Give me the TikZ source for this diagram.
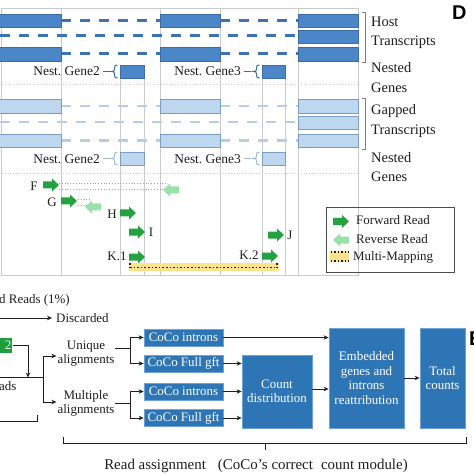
\documentclass[tikz,border=0pt]{standalone}
\usepackage{fontspec}
\setmainfont{Liberation Serif}
\newfontfamily\lsans{Liberation Sans}
\usetikzlibrary{arrows.meta}
\frenchspacing
\definecolor{hostfill}{HTML}{4A86C8}
\definecolor{hostdraw}{HTML}{3B6CA3}
\definecolor{hostdash}{HTML}{3E73B2}
\definecolor{gapfill}{HTML}{BDD7EE}
\definecolor{gapdraw}{HTML}{7C9DC2}
\definecolor{gapdash}{HTML}{B7CDE5}
\definecolor{gridgray}{HTML}{CACACA}
\definecolor{fwdgreen}{HTML}{23A23F}
\definecolor{revgreen}{HTML}{97E2A8}
\definecolor{mmyellow}{HTML}{FFE38C}
\definecolor{cocoblue}{HTML}{2E75B6}
\definecolor{cocoedge}{HTML}{6FA3D6}
\definecolor{boxgreen}{HTML}{1F9E3C}
\definecolor{txt}{HTML}{1E1E1E}
\definecolor{dotgray}{HTML}{9A9AB0}
\tikzset{
  hostbar/.style={fill=hostfill, draw=hostdraw, line width=0.8bp},
  gapbar/.style={fill=gapfill, draw=gapdraw, line width=0.8bp},
  hdash/.style={hostdash, line width=3bp, dash pattern=on 10bp off 9bp},
  gdash/.style={gapdash, line width=2.5bp, dash pattern=on 10bp off 9bp},
  grid/.style={gridgray, line width=0.8bp},
  hline/.style={gridgray, line width=0.8bp, dotted},
  lab/.style={font=\fontsize{14.5}{16}\selectfont, inner sep=0, anchor=west, text=txt},
  nest/.style={font=\fontsize{13.5}{15}\selectfont, inner sep=0, anchor=east, text=txt},
  rdlab/.style={font=\fontsize{13}{15}\selectfont, inner sep=0, text=txt},
  coco/.style={fill=cocoblue, draw=cocoedge, line width=0.8bp, text=white, minimum width=79bp, minimum height=17bp, inner sep=0, font=\fontsize{13}{15}\selectfont},
  bigbox/.style={fill=cocoblue, draw=cocoedge, line width=0.8bp, text=white, align=center, inner sep=0, font=\fontsize{13}{14.5}\selectfont},
  flowtxt/.style={font=\fontsize{13}{14}\selectfont, align=center, inner sep=1bp, text=txt},
  flow/.style={-{Stealth[length=5bp,width=4.5bp]}, line width=0.8bp, txt},
  plain/.style={line width=0.8bp, txt},
  fwdread/.pic={\fill[fwdgreen] (0,-3.5) -- (9,-3.5) -- (9,-6.5) -- (16,0) -- (9,6.5) -- (9,3.5) -- (0,3.5) -- cycle;},
  revread/.pic={\fill[revgreen] (16,-3.5) -- (7,-3.5) -- (7,-6.5) -- (0,0) -- (7,6.5) -- (7,3.5) -- (16,3.5) -- cycle;},
  nbrace/.pic={\draw[pic actions] (6,-6.5) .. controls (3.5,-6.5) and (3,-5.5) .. (3,-3.5) -- (3,-2) .. controls (3,-0.5) and (2,0) .. (0,0) .. controls (2,0) and (3,0.5) .. (3,2) -- (3,3.5) .. controls (3,5.5) and (3.5,6.5) .. (6,6.5);}
}
\begin{document}
\begin{tikzpicture}[x=1bp,y=-1bp]
\useasboundingbox (0,0) rectangle (474,474);
\fill[white] (0,0) rectangle (474,474);

% ---------- top panel ----------
\draw[grid] (1.5,275) -- (1.5,8) -- (358,8) -- (358,275) -- cycle;
\foreach \x in {61,160,220,298} \draw[grid] (\x,8) -- (\x,275);
\foreach \x in {120,144,262,285} \draw[grid] (\x,78) -- (\x,275);
\draw[hline] (2,84) -- (358,84);
\draw[hline] (2,173) -- (358,173);

% host transcripts
\draw[hdash] (61,20.5) -- (160,20.5);
\draw[hdash] (220,20.5) -- (298,20.5);
\draw[hdash] (0,36) -- (298,36);
\draw[hdash] (61,53.5) -- (160,53.5);
\draw[hdash] (220,53.5) -- (298,53.5);
\draw[hostbar] (-2,14) rectangle (61,27);
\draw[hostbar] (160,14) rectangle (220,27);
\draw[hostbar] (298,14) rectangle (358,27);
\draw[hostbar] (298,30) rectangle (358,43);
\draw[hostbar] (-2,47) rectangle (61,61);
\draw[hostbar] (160,47) rectangle (220,61);
\draw[hostbar] (298,47) rectangle (358,61);

% nested genes (host)
\node[nest] (ng2) at (100,71.5) {Nest. Gene2};
\node[nest] (ng3) at (241,71.5) {Nest. Gene3};
\draw[hostbar] (120,65) rectangle (144,78);
\draw[hostbar] (262,65) rectangle (285,78);
\draw[hostdraw, line width=1bp] (103,71.5) -- (110,71.5);
\pic[hostdraw, line width=1bp] at (111.5,71.5) {nbrace};
\draw[hostdraw, line width=1bp] (244,71.5) -- (251,71.5);
\pic[hostdraw, line width=1bp] at (253.5,71.5) {nbrace};

% gapped transcripts
\draw[gdash] (61,106) -- (160,106);
\draw[gdash] (220,106) -- (298,106);
\draw[gdash] (0,122) -- (298,122);
\draw[gdash] (61,140.5) -- (160,140.5);
\draw[gdash] (220,140.5) -- (298,140.5);
\draw[gapbar] (-2,99) rectangle (61,113);
\draw[gapbar] (160,99) rectangle (220,113);
\draw[gapbar] (298,99) rectangle (358,113);
\draw[gapbar] (298,116) rectangle (358,129);
\draw[gapbar] (-2,134) rectangle (61,147);
\draw[gapbar] (160,134) rectangle (220,147);
\draw[gapbar] (298,134) rectangle (358,147);

% nested genes (gapped)
\node[nest] (gg2) at (100,159) {Nest. Gene2};
\node[nest] (gg3) at (241,159) {Nest. Gene3};
\draw[gapbar] (120,152) rectangle (144,165);
\draw[gapbar] (262,152) rectangle (285,165);
\draw[gapdraw!70, line width=1bp] (103,158.5) -- (110,158.5);
\pic[gapdraw!70, line width=1bp] at (111.5,158.5) {nbrace};
\draw[gapdraw!70, line width=1bp] (244,158.5) -- (251,158.5);
\pic[gapdraw!70, line width=1bp] at (253.5,158.5) {nbrace};

% right labels
\draw[gray, line width=0.8bp] (362,12) -- (365.5,12) -- (365.5,62) -- (362,62);
\draw[gray, line width=0.8bp] (362,98) -- (365.5,98) -- (365.5,149) -- (362,149);
\node[lab] (l1) at (371,22) {Host};
\node[lab] (l2) at (371,42) {Transcripts};
\node[lab] (l3) at (371,68) {Nested};
\node[lab] (l4) at (371,88) {Genes};
\node[lab] (l5) at (371,111) {Gapped};
\node[lab] (l6) at (371,131) {Transcripts};
\node[lab] (l7) at (371,158) {Nested};
\node[lab] (l8) at (371,177) {Genes};
\node[font=\lsans\bfseries\fontsize{20}{20}\selectfont, inner sep=0, anchor=west] (D) at (452,13) {D};

% reads
\node[rdlab] (F) at (34,186) {F};
\draw[dotgray, dotted, line width=0.8bp] (59,183) -- (167,183);
\draw[dotgray, dotted, line width=0.8bp] (59,189) -- (163,189);
\pic at (43,185) {fwdread};
\pic at (163,190) {revread};
\node[rdlab] (G) at (52,202) {G};
\draw[dotgray, dotted, line width=0.8bp] (78,199.5) -- (90,199.5);
\draw[dotgray, dotted, line width=0.8bp] (78,205.5) -- (88,205.5);
\pic at (61,201) {fwdread};
\pic at (85,207) {revread};
\node[rdlab] (H) at (112,214) {H};
\pic at (120,213) {fwdread};
\pic at (129,232) {fwdread};
\node[rdlab] (I) at (151,232) {I};
\node[rdlab] (K1) at (117,256) {K.1};
\pic at (129,257) {fwdread};
\pic at (268,235) {fwdread};
\node[rdlab] (J) at (290,235) {J};
\node[rdlab] (K2) at (249,255) {K.2};
\pic at (262,256) {fwdread};
\fill[mmyellow] (129,262.5) rectangle (279,271);
\draw[txt, dotted, line width=1.6bp] (130,267.5) -- (277,267.5);
\draw[txt, dotted, line width=1.6bp] (130,263) -- (130,267.5);
\draw[txt, dotted, line width=1.6bp] (277,263) -- (277,267.5);

% legend
\draw[txt!80, line width=1bp] (326,208) rectangle (454,272);
\pic at (333,221.5) {fwdread};
\pic at (333,240) {revread};
\fill[mmyellow] (330,251) rectangle (349,262);
\draw[txt, dotted, line width=1.4bp] (331,252) -- (348,252);
\draw[txt, dotted, line width=1.4bp] (331,261) -- (348,261);
\node[rdlab, anchor=west] (lf) at (356,220) {Forward Read};
\node[rdlab, anchor=west] (lr) at (356,239) {Reverse Read};
\node[rdlab, anchor=west] (lm) at (353,257) {Multi-Mapping};

% ---------- bottom panel ----------
\node[rdlab, anchor=west] (unm) at (-1,300) {d Reads (1\%)};
\coordinate (dstart) at (0,318);
\node[rdlab, anchor=west] (disc) at (56,318) {Discarded};
\draw[flow, shorten >=4bp] (dstart) -- (disc.west);

\node[fill=boxgreen, text=white, minimum height=15bp, text width=28bp, align=right, inner xsep=1bp, inner ysep=0, anchor=east, font=\fontsize{13}{15}\selectfont] (g2) at (12.5,345.5) {2};
\coordinate (jl) at (0,377.5);
\coordinate (jn) at (43,377.5);
\coordinate (drop) at (28,377.5);
\draw[flow] (g2.east) -| (drop);
\draw[plain] (jl) -- (jn);
\node[rdlab, anchor=west] (ads) at (-1,386) {ads};
\draw[plain] (0,421) -- (37,421) -- (37,415);

\node[flowtxt] (uni) at (86,354) {Unique\\alignments};
\node[flowtxt] (mul) at (86,403) {Multiple\\alignments};
\coordinate (bt) at (43,356);
\coordinate (bb) at (43,402);
\draw[plain] (bt) -- (bb);
\draw[flow] (bt) -- (bt -| uni.west);
\draw[flow] (bb) -- (bb -| mul.west);

\node[coco] (ci1) at (183.5,337.5) {CoCo introns};
\node[coco] (cf1) at (183.5,363.5) {CoCo Full gft};
\node[coco] (ci2) at (183.5,391.5) {CoCo introns};
\node[coco] (cf2) at (183.5,418) {CoCo Full gft};

\coordinate (ub) at (130,348);
\coordinate (mb) at (130,403);
\draw[plain] (ub) ++(-15,0) -- (ub);
\draw[flow] (ub) |- (ci1.west);
\draw[flow] (ub) |- (cf1.west);
\draw[plain] (mb) ++(-15,0) -- (mb);
\draw[flow] (mb) |- (ci2.west);
\draw[flow] (mb) |- (cf2.west);

\node[bigbox, minimum width=70bp, minimum height=73bp] (cnt) at (277,391.5) {Count\\distribution};
\node[bigbox, minimum width=75bp, minimum height=100bp] (emb) at (366.5,378) {Embedded\\genes and\\introns\\reattribution};
\node[bigbox, minimum width=45bp, minimum height=100bp] (tot) at (442.5,378) {Total\\counts};

\draw[flow] (ci1.east) -- (ci1.east -| emb.west);
\draw[flow] (cf1.east) -- (cf1.east -| cnt.west);
\draw[flow] (ci2.east) -- (ci2.east -| cnt.west);
\draw[flow] (cf2.east) -- (cf2.east -| cnt.west);
\draw[flow] (cnt.east |- 0,389) -- (emb.west |- 0,389);
\draw[flow] (emb.east) -- (tot.west);

\node[font=\lsans\bfseries\fontsize{20}{20}\selectfont, inner sep=0, anchor=west] (E) at (469,339) {E};

\draw[plain] (63,437) -- (63,443) -- (466,443) -- (466,437);
\draw[plain] (265,443) -- (265,450);
\node[font=\fontsize{15}{17}\selectfont, inner sep=0, text=txt] (ra) at (256,466) {Read assignment\hspace{12bp}(CoCo's correct\hspace{8bp}count module)};
\end{tikzpicture}
\end{document}
